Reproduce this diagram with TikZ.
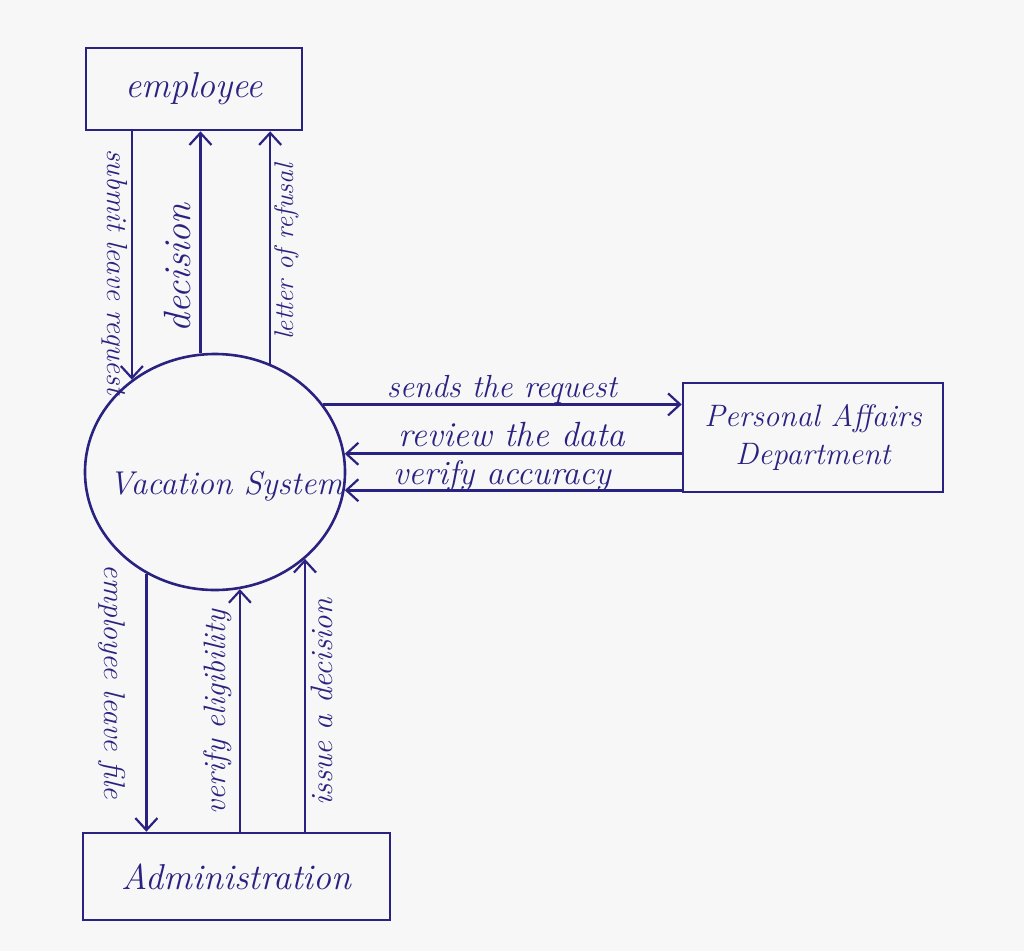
\documentclass[tikz,border=0pt]{standalone}
\usetikzlibrary{shapes.geometric,arrows.meta}
\definecolor{ink}{RGB}{42,34,128}
\definecolor{paper}{RGB}{247,247,247}
\begin{document}
\begin{tikzpicture}[x=1pt,y=-1pt,
  ink/.style={draw=ink,line width=2.6pt},
  flow/.style={ink,-{Straight Barb[length=12pt,width=22pt,line width=2.2pt]}},
  box/.style={ink,rectangle,inner sep=0pt,text=ink},
  lbl/.style={text=ink,inner sep=0pt,font=\fontsize{#1}{#1}\selectfont\itshape}]
\fill[paper] (0,0) rectangle (1024,951);
\useasboundingbox (0,0) rectangle (1024,951);
% nodes
\node[box,minimum width=216pt,minimum height=82pt,font=\fontsize{36}{40}\selectfont\itshape] (emp) at (194,89) {employee};
\node[box,ellipse,minimum width=260pt,minimum height=236pt] (vs) at (215,472) {};
\node[text=ink,font=\fontsize{33}{38}\selectfont\itshape] (vst) at (226,486) {Vacation System};
\node[box,minimum width=260pt,minimum height=109pt,align=center,font=\fontsize{31}{38}\selectfont\itshape] (pad) at (813,437.5) {Personal Affairs\\Department};
\node[box,minimum width=307pt,minimum height=87pt,font=\fontsize{36}{40}\selectfont\itshape] (adm) at (236.5,876.5) {Administration};
% top connectors
\draw[flow] (emp.south -| vs.132.4) -- (vs.132.4);
\draw[flow] (vs.97.3) -- (vs.97.3 |- emp.south);
\draw[flow] (vs.63.8) -- (vs.63.8 |- emp.south);
% right connectors
\draw[flow] (vs.32.1) -- (vs.32.1 -| pad.west);
\draw[flow] (vs.8.9 -| pad.west) -- (vs.8.9);
\draw[flow] (vs.352.9 -| pad.west) -- (vs.352.9);
% bottom connectors
\draw[flow] (vs.236.5) -- (vs.236.5 |- adm.north);
\draw[flow] (adm.north -| vs.282.2) -- (vs.282.2);
\draw[flow] (adm.north -| vs.316.6) -- (vs.316.6);
% labels
\node[lbl=29,rotate=-90] (l1) at (115,272) {submit leave request};
\node[lbl=38,rotate=90] (l2) at (178,268) {decision};
\node[lbl=27,rotate=90] (l3) at (287,252) {letter of refusal};
\node[lbl=32,anchor=base] (l4) at (502,397) {sends the request};
\node[lbl=35,anchor=base] (l5) at (512,446) {review the data};
\node[lbl=34,anchor=base] (l6) at (502,484) {verify accuracy};
\node[lbl=30,rotate=-90] (l7) at (112,682) {employee leave file};
\node[lbl=31,rotate=90] (l8) at (218,712) {verify eligibility};
\node[lbl=31,rotate=90] (l9) at (322,702) {issue a decision};
\end{tikzpicture}
\end{document}
